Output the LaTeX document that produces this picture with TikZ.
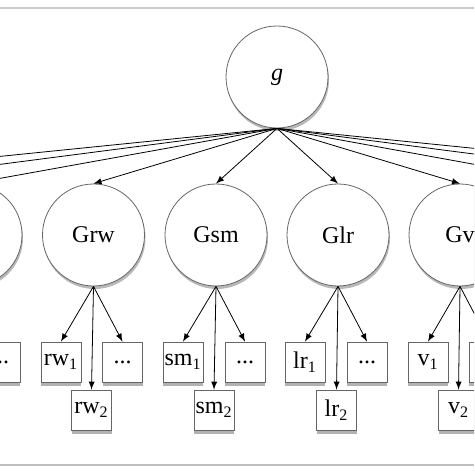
\documentclass[tikz,border=0pt]{standalone}
\usepackage{fontspec}
\setmainfont{Liberation Serif}
\usetikzlibrary{shadows}
\begin{document}
\begin{tikzpicture}[>=latex,x=0.5pt,y=0.5pt,
    factor/.style={circle,draw=black!60,fill=white,minimum size=51pt,inner sep=0pt,
        font=\fontsize{12}{14}\selectfont,
        drop shadow={shadow xshift=0.5pt,shadow yshift=-1.5pt,fill=black!35,opacity=0.8}},
    test/.style={rectangle,draw=black!60,fill=white,minimum size=20pt,inner sep=0pt,
        font=\fontsize{12}{14}\selectfont,
        drop shadow={shadow xshift=0pt,shadow yshift=-2pt,fill=black!30,opacity=1}},
    load/.style={->,line width=0.4pt}]
\useasboundingbox (0,0) rectangle (474,474);
\clip (0,0) rectangle (474,474);

% frame lines
\draw[black!20,line width=1pt] (0,466)--(474,466);
\draw[black!25,line width=1pt] (0,9)--(474,9);

% general factor
\node[factor] (g) at (277,397) {\textit{g}};

% broad factors
\node[factor] (Gx) at (-29,239) {};
\node[factor] (Grw) at (93.5,239) {Grw};
\node[factor] (Gsm) at (216,239) {Gsm};
\node[factor] (Glr) at (338,239) {Glr};
\node[factor] (Gv) at (460,239) {Gv};

\coordinate (L1) at (-273,290);
\coordinate (L2) at (-151,290);
\coordinate (R1) at (582,290);
\coordinate (R2) at (704,290);
\coordinate (R3) at (826,290);

% tests
\node[test] (xx) at (0,112) {...};
\node[test] (rw1) at (61,112) {rw\textsubscript{1}};
\node[test] (rw2) at (91.5,64) {rw\textsubscript{2}};
\node[test] (rwx) at (122.5,112) {...};
\node[test] (sm1) at (183,112) {sm\textsubscript{1}};
\node[test] (sm2) at (214,64) {sm\textsubscript{2}};
\node[test] (smx) at (245,112) {...};
\node[test] (lr1) at (305,112) {lr\textsubscript{1}};
\node[test] (lr2) at (336.5,64) {lr\textsubscript{2}};
\node[test] (lrx) at (367,112) {...};
\node[test] (v1) at (428,112) {v\textsubscript{1}};
\node[test] (v2) at (458.5,64) {v\textsubscript{2}};
\node[test] (vx) at (489,112) {...};

% g -> broad factors
\draw[load] (g.south)--(L1);
\draw[load] (g.south)--(L2);
\draw[load] (g.south)--(Gx.north);
\draw[load] (g.south)--(Grw.north);
\draw[load] (g.south)--(Gsm.north);
\draw[load] (g.south)--(Glr.north);
\draw[load] (g.south)--(Gv.north);
\draw[load] (g.south)--(R1);
\draw[load] (g.south)--(R2);
\draw[load] (g.south)--(R3);

% broad factors -> tests
\draw[load] (Grw.south)--(rw1.north);
\draw[load] (Grw.south)--(rw2.north);
\draw[load] (Grw.south)--(rwx.north);
\draw[load] (Gsm.south)--(sm1.north);
\draw[load] (Gsm.south)--(sm2.north);
\draw[load] (Gsm.south)--(smx.north);
\draw[load] (Glr.south)--(lr1.north);
\draw[load] (Glr.south)--(lr2.north);
\draw[load] (Glr.south)--(lrx.north);
\draw[load] (Gv.south)--(v1.north);
\draw[load] (Gv.south)--(v2.north);
\draw[load] (Gv.south)--(vx.north);

\end{tikzpicture}
\end{document}
